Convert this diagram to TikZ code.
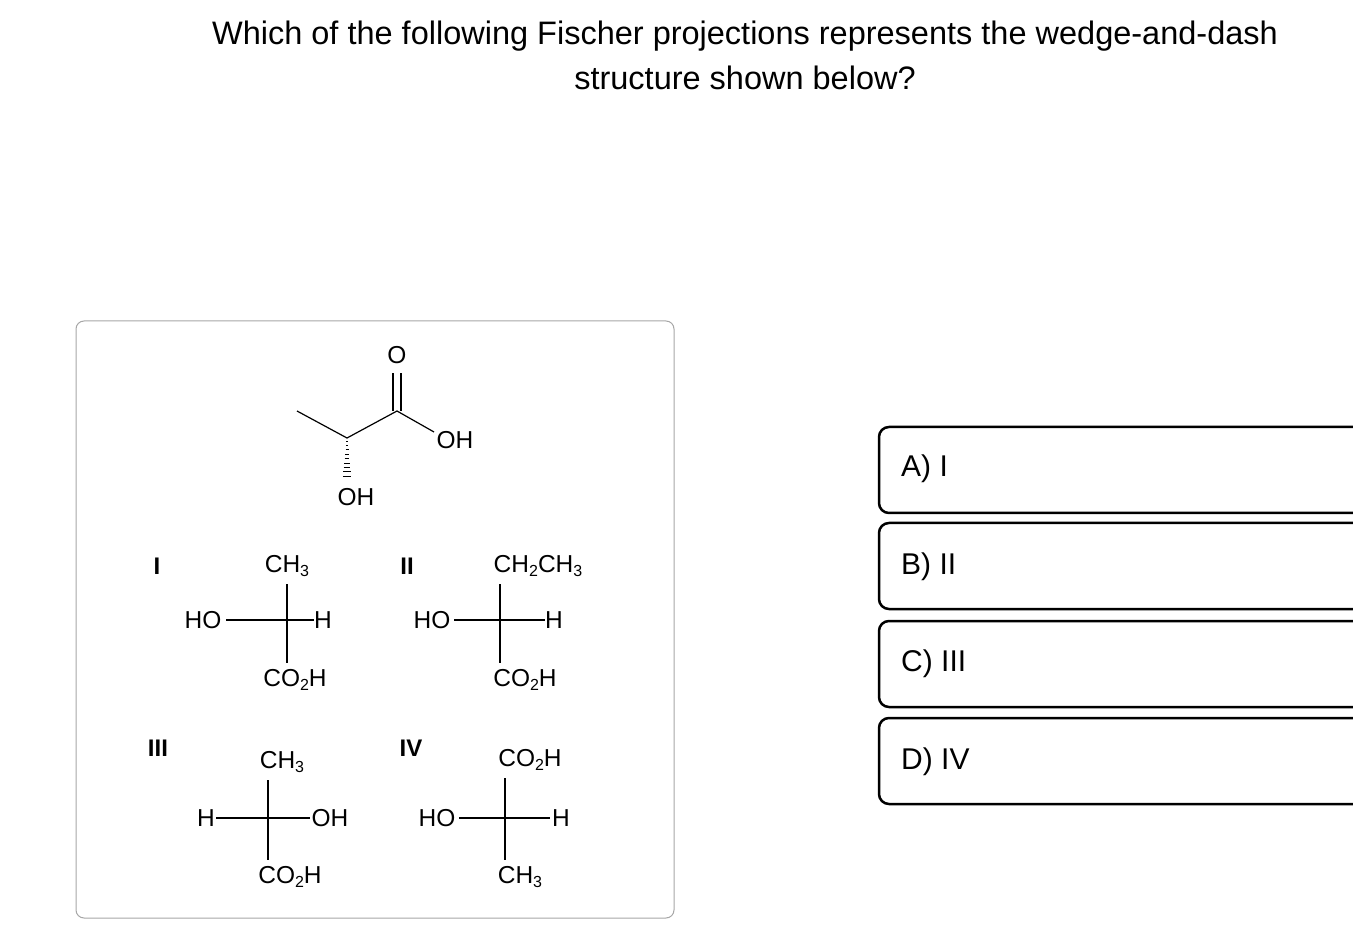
\documentclass[tikz,border=0pt]{standalone}
\usepackage{fontspec}
\setmainfont{Liberation Sans}
\newcommand\subs[1]{\raisebox{-0.3ex}{\fontsize{16}{18}\selectfont #1}}
\begin{document}
\begin{tikzpicture}[x=1pt,y=-1pt,
 ch/.style={font=\fontsize{24.5}{26}\selectfont,inner sep=0},
 rn/.style={font=\bfseries\fontsize{24}{26}\selectfont,inner sep=0},
 bd/.style={line width=1.2pt},
 ans/.style={draw=black,line width=2.5pt},
 anst/.style={font=\fontsize{30}{32}\selectfont,anchor=west,inner sep=0}]
\useasboundingbox (0,0) rectangle (1353,949);
\node[font=\fontsize{32.5}{45}\selectfont,align=center] (title) at (745,55) {Which of the following Fischer projections represents the wedge-and-dash\\structure shown below?};
\draw[gray!70,line width=1pt,rounded corners=8pt] (76,321) rectangle (674,918);
% molecule
\coordinate (me) at (297,411);
\coordinate (c2) at (347,438);
\coordinate (c1) at (397,411);
\node[ch] (o) at (397,355) {O};
\node[ch] (oh1) at (455,440) {OH};
\node[ch] (oh2) at (356,497) {OH};
\draw[bd] (me)--(c2)--(c1)--(434,432);
\draw[bd] (393,411)--(393,373) (401,411)--(401,373);
\foreach \i in {0,...,8}{\pgfmathsetmacro\w{0.6+0.45*\i}\draw[line width=0.9pt] (347-\w,441+4.4*\i)--(347+\w,441+4.4*\i);}
% Fischer I
\node[rn] (r1) at (157,566) {I};
\node[ch] (a1) at (287,566) {CH\subs{3}};
\node[ch] (a2) at (203,620) {HO};
\node[ch] (a3) at (323,620) {H};
\node[ch] (a4) at (295,680) {CO\subs{2}H};
\draw[bd] (287,584)--(287,663) (226,620)--(314,620);
% II
\node[rn] (r2) at (407,566) {II};
\node[ch] (b1) at (538,566) {CH\subs{2}CH\subs{3}};
\node[ch] (b2) at (432,620) {HO};
\node[ch] (b3) at (554,620) {H};
\node[ch] (b4) at (525,680) {CO\subs{2}H};
\draw[bd] (500,584)--(500,663) (454,620)--(545,620);
% III
\node[rn] (r3) at (158,748) {III};
\node[ch] (c1t) at (282,762) {CH\subs{3}};
\node[ch] (c2t) at (206,818) {H};
\node[ch] (c3t) at (330,818) {OH};
\node[ch] (c4t) at (290,877) {CO\subs{2}H};
\draw[bd] (268,780)--(268,860) (216,818)--(310,818);
% IV
\node[rn] (r4) at (411,748) {IV};
\node[ch] (d1) at (530,760) {CO\subs{2}H};
\node[ch] (d2) at (437,818) {HO};
\node[ch] (d3) at (561,818) {H};
\node[ch] (d4) at (520,877) {CH\subs{3}};
\draw[bd] (505,778)--(505,860) (459,818)--(550,818);
% answers
\foreach \t/\b in {427/513,523/609,621/707,718/804}{
\draw[ans] (1360,\t) -- (889,\t) arc(270:180:10) -- (879,\b-10) arc(180:90:10) -- (1360,\b);}
\node[anst] (A) at (901,469) {A) I};
\node[anst] (B) at (901,567) {B) II};
\node[anst] (C) at (901,664) {C) III};
\node[anst] (D) at (901,762) {D) IV};
\end{tikzpicture}
\end{document}
